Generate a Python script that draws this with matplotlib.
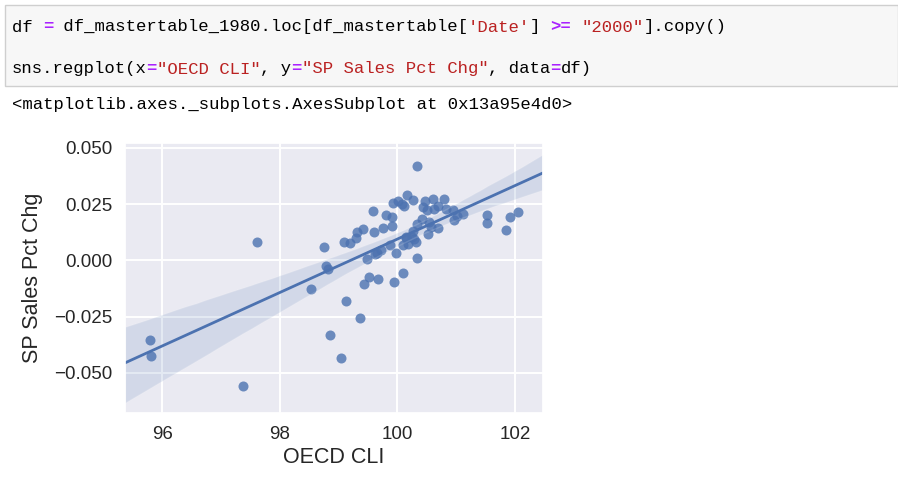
import numpy as np
import pandas as pd
import seaborn as sns
import matplotlib.pyplot as plt

# values
oecd_cli = [95.79, 95.81, 97.38, 97.61, 98.54, 98.76, 98.78, 98.82, 98.86, 99.05,
            99.12, 99.09, 99.20, 99.29, 99.31, 99.42, 99.37, 99.44, 99.52, 99.67,
            99.48, 99.59, 99.60, 99.62, 99.66, 99.72, 99.76, 99.80, 99.88, 99.90,
            99.91, 99.92, 99.94, 99.97, 100.01, 100.07, 100.10, 100.11, 100.09, 100.14,
            100.16, 100.18, 100.27, 100.26, 100.28, 100.31, 100.33, 100.33, 100.33, 100.41,
            100.43, 100.47, 100.50, 100.52, 100.54, 100.57, 100.60, 100.63, 100.69, 100.69,
            100.79, 100.82, 100.95, 100.96, 101.02, 101.11, 101.52, 101.52, 101.85, 101.92,
            102.05, 100.15, 100.24]
sp_sales_pct_chg = [-0.0352, -0.0424, -0.0558, 0.0083, -0.0129, 0.0061, -0.0027, -0.0039, -0.0334, -0.0435,
                    -0.0180, 0.0083, 0.0076, 0.0101, 0.0128, 0.0138, -0.0257, -0.0105, -0.0076, -0.0083,
                    0.0004, 0.0217, 0.0128, 0.0028, 0.0031, 0.0047, 0.0144, 0.0200, 0.0070, 0.0194,
                    0.0154, 0.0255, -0.0096, 0.0033, 0.0264, 0.0252, -0.0055, 0.0240, 0.0067, 0.0104,
                    0.0289, 0.0071, 0.0267, 0.0129, 0.0095, 0.0080, 0.0417, 0.0010, 0.0162, 0.0185,
                    0.0237, 0.0263, 0.0223, 0.0116, 0.0171, 0.0150, 0.0273, 0.0230, 0.0240, 0.0144,
                    0.0272, 0.0227, 0.0223, 0.0177, 0.0196, 0.0208, 0.0200, 0.0166, 0.0134, 0.0193,
                    0.0215, 0.0097, 0.0104]

x_ticks = [96, 98, 100, 102]
y_ticks = [-0.050, -0.025, 0.000, 0.025, 0.050]

df = pd.DataFrame({"OECD CLI": oecd_cli, "SP Sales Pct Chg": sp_sales_pct_chg})

sns.set_theme(style="darkgrid")
plt.rcParams['font.family'] = ['Liberation Sans', 'DejaVu Sans']

W, H = 898, 492
fig = plt.figure(figsize=(W / 100, H / 100), dpi=100)
fig.patch.set_facecolor("white")

# notebook code cell
def px(x, y):
    return x / W, 1 - y / H

cell = plt.Rectangle(px(5, 86), (W - 5) / W, 81 / H, transform=fig.transFigure,
                     facecolor="#f7f7f7", edgecolor="#cfcfcf", lw=1)
fig.patches.append(cell)

adv = 10.35  # px per monospace char
fs = adv / 0.6 / (100 / 72)
mono = "Liberation Mono"
purple = "#aa22ff"
red = "#ba2121"

def code_line(y, parts):
    n = 0
    for txt, col, bold in parts:
        fig.text(*px(12 + n * adv, y), txt, color=col, fontsize=fs, family=mono,
                 weight="bold" if bold else "normal", va="center", ha="left")
        n += len(txt)

code_line(27, [("df ", "black", False), ("=", purple, True),
               (" df_mastertable_1980.loc[df_mastertable[", "black", False),
               ("'Date'", red, False), ("] ", "black", False), (">=", purple, True),
               (" ", "black", False), ('"2000"', red, False), ("].copy()", "black", False)])
code_line(69, [("sns.regplot(x", "black", False), ("=", purple, True),
               ('"OECD CLI"', red, False), (", y", "black", False), ("=", purple, True),
               ('"SP Sales Pct Chg"', red, False), (", data", "black", False),
               ("=", purple, True), ("df)", "black", False)])
code_line(104, [("<matplotlib.axes._subplots.AxesSubplot at 0x13a95e4d0>", "black", False)])

# the regression plot
ax = fig.add_axes([125 / W, 1 - 413.3 / H, 417.7 / W, 270 / H])
ax.set_xlim(95.37, 102.47)
ax.set_ylim(-0.068, 0.052)
sns.regplot(x="OECD CLI", y="SP Sales Pct Chg", data=df, ax=ax, truncate=False,
            color="#4C72B0", seed=3,
            scatter_kws={"s": 52, "alpha": 0.8, "linewidths": 0},
            line_kws={"lw": 2})
ax.set_xticks(x_ticks)
ax.set_yticks(y_ticks)
ax.set_yticklabels([f"{v:.3f}".replace("-", "\u2212") for v in y_ticks])
ax.tick_params(labelsize=13.5, colors="0.15", pad=9, length=0)
ax.grid(color="white", lw=1.4)
ax.set_xlabel("OECD CLI", fontsize=15.5, color="0.15", labelpad=3)
ax.set_ylabel("SP Sales Pct Chg", fontsize=15.5, color="0.15", labelpad=8)

plt.savefig("out.png", dpi=100)
